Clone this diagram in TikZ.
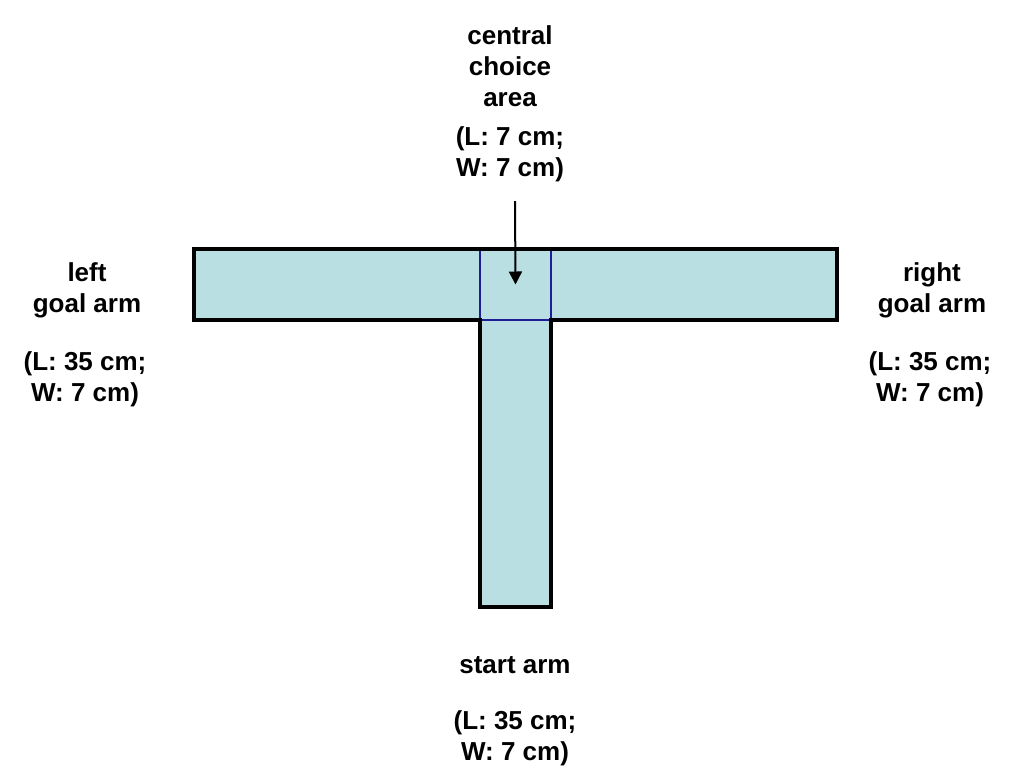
\documentclass[tikz,border=0pt]{standalone}
\usepackage{fontspec}
\setmainfont{Liberation Sans}
\usetikzlibrary{arrows.meta}
\definecolor{armfill}{RGB}{185,223,227}
\definecolor{navy}{RGB}{30,30,150}
\tikzset{
  lbl/.style={align=center,font=\fontsize{26}{31}\selectfont\bfseries,inner sep=0pt},
  outline/.style={draw=black,line width=4pt,line join=miter},
  centre/.style={draw=navy,line width=2.2pt,minimum width=71pt,minimum height=71pt,inner sep=0pt,fill=armfill},
  pointer/.style={line width=2pt,-{Triangle[length=13pt,width=13pt]}}
}
\begin{document}
\begin{tikzpicture}[x=1pt,y=-1pt]
\useasboundingbox (0,0) rectangle (1022,772);
% filled T
\fill[armfill] (194,249) -- (837,249) -- (837,320) -- (551,320) -- (551,607) -- (480,607) -- (480,320) -- (194,320) -- cycle;
\node[centre] (choice) at (515.5,284.5) {};
\draw[outline] (194,249) -- (837,249) -- (837,320) -- (551,320) -- (551,607) -- (480,607) -- (480,320) -- (194,320) -- cycle;
% labels
\node[lbl] (ctitle) at (510,66) {central\\choice\\area};
\node[lbl] (cdim) at (510,154) {(L: 7 cm;\\W: 7 cm)};
\node[lbl] (ltitle) at (87,290) {left\\goal arm};
\node[lbl] (ldim) at (85,379) {(L: 35 cm;\\W: 7 cm)};
\node[lbl] (rtitle) at (932,290) {right\\goal arm};
\node[lbl] (rdim) at (930,379) {(L: 35 cm;\\W: 7 cm)};
\node[lbl] (stitle) at (515,665) {start arm};
\node[lbl] (sdim) at (515,738) {(L: 35 cm;\\W: 7 cm)};
% arrow
\coordinate (astart) at (515,201);
\draw[pointer] (astart) -- (choice.center);
\end{tikzpicture}
\end{document}
